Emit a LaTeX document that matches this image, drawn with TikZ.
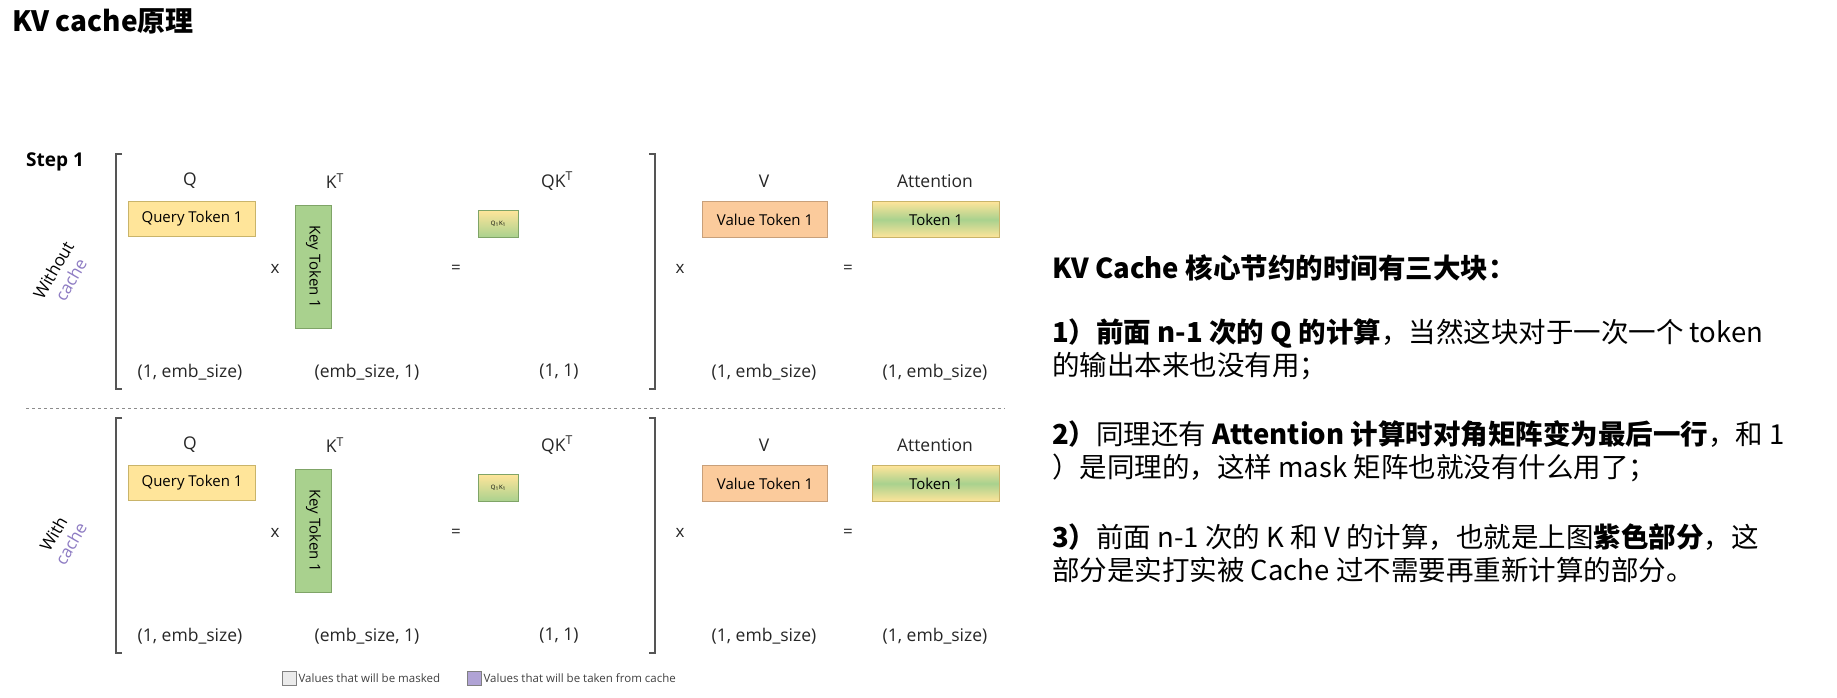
\documentclass[tikz,border=0pt]{standalone}
\usepackage{fontspec}
\setmainfont{Open Sans}
\newfontfamily\cjk{Noto Sans CJK SC}
\usetikzlibrary{positioning}
\definecolor{qy}{HTML}{FFE59A}\definecolor{qyb}{HTML}{C9B46A}
\definecolor{kg}{HTML}{A9D18E}\definecolor{kgb}{HTML}{7FA467}
\definecolor{vo}{HTML}{FBCB9C}\definecolor{vob}{HTML}{C8A07A}
\definecolor{pur}{HTML}{8E7CC3}\definecolor{brk}{HTML}{555555}
\tikzset{
 lbl/.style={font=\fontsize{17.5}{20}\selectfont, text=black!85},
 op/.style={font=\fontsize{17}{18}\selectfont, text=black!85},
 tok/.style={draw, line width=1pt, font=\fontsize{15}{17}\selectfont, inner sep=0pt, anchor=north west},
 brkt/.style={draw=brk, line width=2pt},
 rt/.style={font=\cjk\fontsize{27.5}{30}\selectfont, anchor=west, inner sep=0pt},
 leg/.style={anchor=west, font=\fontsize{11.5}{12}\selectfont, text=black!75, inner sep=2pt},
}
\begin{document}
\begin{tikzpicture}[x=1pt,y=-1pt]
\fill[white] (0,0) rectangle (1837,697);
\useasboundingbox (0,0) rectangle (1837,697);
\node[anchor=west, font=\cjk\bfseries\fontsize{28}{30}\selectfont, inner sep=0pt] (title) at (12,21) {KV cache原理};
\node[anchor=west, font=\bfseries\fontsize{19}{21}\selectfont, inner sep=0pt] (step) at (26,162) {Step 1};
\foreach \dy/\tag/\word in {0/a/Without, 264/b/With}{
 \begin{scope}[yshift=-\dy pt]
 \draw[brkt] (122,154) -- (116,154) -- (116,389) -- (122,389);
 \draw[brkt] (649,154) -- (655,154) -- (655,389) -- (649,389);
 \node[rotate=60, align=center, font=\fontsize{17}{20}\selectfont] (side\tag) at (62,275) {\word\\\textcolor{pur}{cache}};
 \node[lbl] (lq\tag) at (190,181) {Q};
 \node[lbl] (lk\tag) at (335,181) {K\textsuperscript{T}};
 \node[lbl] (lqk\tag) at (557,181) {QK\textsuperscript{T}};
 \node[lbl] (lv\tag) at (764,181) {V};
 \node[lbl] (la\tag) at (935,181) {Attention};
 \node[tok, fill=qy, draw=qyb, minimum width=127pt, minimum height=35pt] (q\tag) at (128,201) {Query Token 1};
 \node[tok, fill=kg, draw=kgb, minimum width=36pt, minimum height=123pt] (k\tag) at (295,205) {};
 \node[rotate=-90, font=\fontsize{15}{17}\selectfont] at (k\tag.center) {Key Token 1};
 \node[tok, top color=qy, bottom color=kg, draw=kgb, minimum width=40pt, minimum height=27pt, font=\fontsize{6}{7}\selectfont] (qk\tag) at (478,210) {Q\textsubscript{1}K\textsubscript{1}};
 \node[tok, fill=vo, draw=vob, minimum width=125pt, minimum height=36pt] (v\tag) at (702,201) {Value Token 1};
 \node[tok, top color=qy, bottom color=qy, middle color=kg, draw=qyb, minimum width=127pt, minimum height=36pt] (at\tag) at (872,201) {Token 1};
 \node[op] (x1\tag) at (275,269) {x};
 \node[op] (e1\tag) at (456,269) {=};
 \node[op] (x2\tag) at (680,269) {x};
 \node[op] (e2\tag) at (848,269) {=};
 \node[lbl] (d1\tag) at (190,372) {(1, emb\_size)};
 \node[lbl] (d2\tag) at (367,372) {(emb\_size, 1)};
 \node[lbl] (d3\tag) at (559,372) {(1, 1)};
 \node[lbl] (d4\tag) at (764,372) {(1, emb\_size)};
 \node[lbl] (d5\tag) at (935,372) {(1, emb\_size)};
 \end{scope}}
\draw[dashed, draw=black!45, line width=1pt] (26,408) -- (1005,408);
\node[draw=black!50, fill=black!8, minimum size=14pt, inner sep=0pt, anchor=north west] (m1) at (282,671) {};
\node[leg] (m1t) at (m1.east) {Values that will be masked};
\node[draw=black!50, fill=pur!70, minimum size=14pt, inner sep=0pt, anchor=north west] (m2) at (467,671) {};
\node[leg] (m2t) at (m2.east) {Values that will be taken from cache};
\node[rt, font=\cjk\bfseries\fontsize{27.5}{30}\selectfont] (h) at (1052,268) {KV Cache 核心节约的时间有三大块：};
\node[rt] (l1) at (1052,333) {\textbf{1）前面 n-1 次的 Q 的计算}，当然这块对于一次一个 token};
\node[rt] (l2) at (1052,366) {的输出本来也没有用；};
\node[rt] (l3) at (1052,434) {\textbf{2）}同理还有 \textbf{Attention 计算时对角矩阵变为最后一行}，和 1};
\node[rt] (l4) at (1052,468) {）是同理的，这样 mask 矩阵也就没有什么用了；};
\node[rt] (l5) at (1052,537) {\textbf{3）}前面 n-1 次的 K 和 V 的计算，也就是上图\textbf{紫色部分}，这};
\node[rt] (l6) at (1052,570) {部分是实打实被 Cache 过不需要再重新计算的部分。};
\end{tikzpicture}
\end{document}
